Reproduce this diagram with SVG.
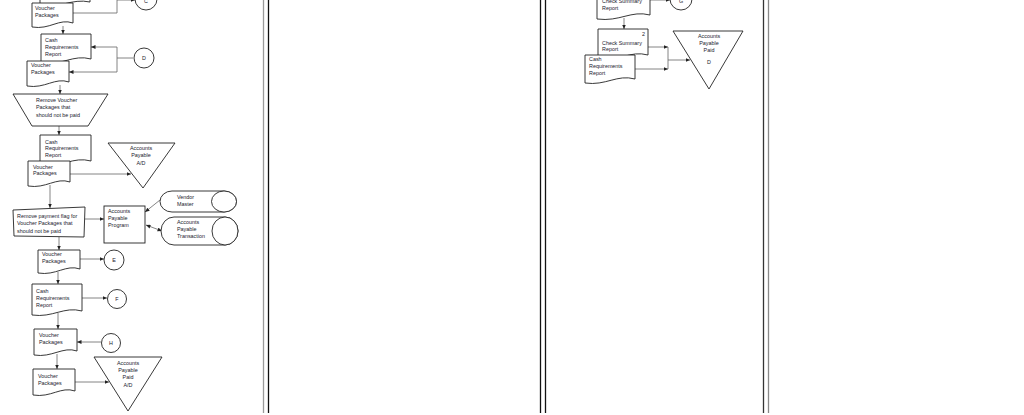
<svg xmlns="http://www.w3.org/2000/svg" width="1024" height="415" viewBox="0 0 1024 415">
<style>
.s{fill:#fff;stroke:#222;stroke-width:0.9}
.c{fill:none;stroke:#666;stroke-width:0.8}
.t{font-family:"Liberation Sans",Arial,sans-serif;font-size:5.4px;fill:#1a1a2e}
.m{text-anchor:middle}
</style>
<defs>
<marker id="a" markerUnits="userSpaceOnUse" markerWidth="5" markerHeight="5" refX="4.5" refY="2" orient="auto"><path d="M0,0 L4.5,2 L0,4 z" fill="#222"/></marker>
<marker id="b" markerUnits="userSpaceOnUse" markerWidth="5" markerHeight="5" refX="0" refY="2" orient="auto"><path d="M4.5,0 L0,2 L4.5,4 z" fill="#222"/></marker>
</defs>
<rect width="1024" height="415" fill="#fff"/>
<g id="borders">
<line x1="263.5" y1="0" x2="263.5" y2="413" stroke="#9a9a9a" stroke-width="1.3"/>
<line x1="268.5" y1="0" x2="268.5" y2="413" stroke="#111" stroke-width="1.3"/>
<line x1="540.5" y1="0" x2="540.5" y2="413" stroke="#111" stroke-width="1.3"/>
<line x1="545.5" y1="0" x2="545.5" y2="413" stroke="#111" stroke-width="1.3"/>
<line x1="763.5" y1="0" x2="763.5" y2="413" stroke="#333" stroke-width="1.3"/>
<line x1="768.5" y1="0" x2="768.5" y2="413" stroke="#888" stroke-width="1.3"/>
</g>
<g id="connectors">
<path class="c" d="M73,13 H117 V0 H135" marker-end="url(#a)"/>
<path class="c" d="M63,26 V34" marker-end="url(#a)"/>
<path class="c" d="M133,58 H117"/>
<path class="c" d="M117,47 V72"/>
<path class="c" d="M117,47 H91" marker-end="url(#a)"/>
<path class="c" d="M117,72 H69" marker-end="url(#a)"/>
<path class="c" d="M60,85 V94" marker-end="url(#a)"/>
<path class="c" d="M59,126 V135" marker-end="url(#a)"/>
<path class="c" d="M70,174 H131" marker-end="url(#a)"/>
<path class="c" d="M50,185 V208" marker-end="url(#a)"/>
<path class="c" d="M85,219 H104" marker-end="url(#a)"/>
<path class="c" d="M160,200 L145,212" marker-end="url(#a)"/>
<path class="c" d="M146,225 L162,231" marker-start="url(#b)" marker-end="url(#a)"/>
<path class="c" d="M59,237 V250" marker-end="url(#a)"/>
<path class="c" d="M80,259 H104" marker-end="url(#a)"/>
<path class="c" d="M58,272 V284" marker-end="url(#a)"/>
<path class="c" d="M82,298 H107" marker-end="url(#a)"/>
<path class="c" d="M58,313 V329" marker-end="url(#a)"/>
<path class="c" d="M101,342 H77" marker-end="url(#a)"/>
<path class="c" d="M57,354 V369" marker-end="url(#a)"/>
<path class="c" d="M75,382 H109" marker-end="url(#a)"/>
<path class="c" d="M650,0 H670" marker-end="url(#a)"/>
<path class="c" d="M624,18 V29" marker-end="url(#a)"/>
<path class="c" d="M648,47 H668" marker-end="url(#a)"/>
<path class="c" d="M635,69 H668" marker-end="url(#a)"/>
<path class="c" d="M668,47 V69"/>
<path class="c" d="M668,60 H690" marker-end="url(#a)"/>
</g>
<g id="doc-top-back"><path class="s" d="M40,-30 H90 V2 C72,-2 58,9 40,6 Z"/></g>
<g id="c-circle"><circle class="s" cx="146" cy="-1" r="11"/><text class="t m" x="146" y="3" fill="#b36b00">C</text></g>
<g id="voucher1"><path class="s" d="M32,3 H73 V23 C59,18 50,30 32,27 Z"/><text class="t" x="35" y="10">Voucher</text><text class="t" x="35" y="17">Packages</text></g>
<g id="cashreq1"><path class="s" d="M41,34 H91 V59 C73,54 62,66 41,63 Z"/><text class="t" x="45" y="42">Cash</text><text class="t" x="45" y="49">Requirements</text><text class="t" x="45" y="56">Report</text></g>
<g id="voucher2"><path class="s" d="M27,61 H69 V82 C55,77 45,89 27,86 Z"/><text class="t" x="31" y="67">Voucher</text><text class="t" x="31" y="74">Packages</text></g>
<g id="d-circle"><circle class="s" cx="144" cy="58" r="10"/><text class="t m" x="144" y="60">D</text></g>
<g id="remove-voucher"><path class="s" d="M13,94 H108 L88,126 H32 Z"/><text class="t" x="36" y="102">Remove Voucher</text><text class="t" x="36" y="109">Packages that</text><text class="t" x="36" y="117">should not be paid</text></g>
<g id="cashreq2"><path class="s" d="M40,135 H91 V161 C73,156 62,168 40,165 Z"/><text class="t" x="45" y="144">Cash</text><text class="t" x="45" y="150">Requirements</text><text class="t" x="45" y="157">Report</text></g>
<g id="voucher3"><path class="s" d="M28,161 H70 V182 C56,177 46,189 28,186 Z"/><text class="t" x="33" y="169">Voucher</text><text class="t" x="33" y="175">Packages</text></g>
<g id="ap-ad"><path class="s" d="M108,143 H175 L143,188 Z"/><text class="t m" x="141" y="150">Accounts</text><text class="t m" x="141" y="157">Payable</text><text class="t m" x="141" y="165">A/D</text></g>
<g id="remove-flag"><path class="s" d="M13,210 L85,207 L84,237 L14,236 Z"/><text class="t" x="17" y="218">Remove payment flag for</text><text class="t" x="17" y="225">Voucher Packages that</text><text class="t" x="17" y="233">should not be paid</text></g>
<g id="ap-program"><rect class="s" x="104" y="206" width="41" height="37"/><text class="t" x="108" y="213">Accounts</text><text class="t" x="108" y="220">Payable</text><text class="t" x="108" y="227">Program</text></g>
<g id="vendor-master"><path class="s" d="M172,191 H224 A12.5,10.5 0 0 1 224,212 H172 A12,10.5 0 0 1 172,191 Z"/><ellipse class="s" cx="224" cy="201.5" rx="12.5" ry="10.5"/><text class="t" x="177" y="199">Vendor</text><text class="t" x="177" y="206">Master</text></g>
<g id="ap-transaction"><path class="s" d="M174,217 H225 A13,14 0 0 1 225,245 H174 A13,14 0 0 1 174,217 Z"/><ellipse class="s" cx="225" cy="231" rx="13" ry="14"/><text class="t" x="177" y="224">Accounts</text><text class="t" x="177" y="231">Payable</text><text class="t" x="177" y="238">Transaction</text></g>
<g id="voucher4"><path class="s" d="M38,250 H80 V269 C66,264 56,276 38,273 Z"/><text class="t" x="42" y="256">Voucher</text><text class="t" x="42" y="263">Packages</text></g>
<g id="e-circle"><circle class="s" cx="114" cy="260" r="10"/><text class="t m" x="114" y="262">E</text></g>
<g id="cashreq3"><path class="s" d="M32,284 H82 V311 C64,306 53,318 32,315 Z"/><text class="t" x="36" y="293">Cash</text><text class="t" x="36" y="300">Requirements</text><text class="t" x="36" y="307">Report</text></g>
<g id="f-circle"><circle class="s" cx="117" cy="299" r="9.5"/><text class="t m" x="117" y="301">F</text></g>
<g id="voucher5"><path class="s" d="M34,329 H77 V351 C63,346 52,358 34,355 Z"/><text class="t" x="39" y="337">Voucher</text><text class="t" x="39" y="344">Packages</text></g>
<g id="h-circle"><circle class="s" cx="111" cy="343" r="9.5"/><text class="t m" x="111" y="345">H</text></g>
<g id="voucher6"><path class="s" d="M33,369 H75 V391 C61,386 51,398 33,395 Z"/><text class="t" x="38" y="378">Voucher</text><text class="t" x="38" y="385">Packages</text></g>
<g id="ap-paid-ad"><path class="s" d="M94,357 H162 L128,411 Z"/><text class="t m" x="128" y="365">Accounts</text><text class="t m" x="128" y="372">Payable</text><text class="t m" x="128" y="379">Paid</text><text class="t m" x="128" y="387">A/D</text></g>
<g id="check-summary-top"><path class="s" d="M597,-20 H650 V15 C631,10 620,22 597,19 Z"/><text class="t" x="602" y="3">Check Summary</text><text class="t" x="602" y="9.5">Report</text></g>
<g id="g-circle"><circle class="s" cx="681" cy="-1" r="11"/><text class="t m" x="681" y="3" fill="#b36b00">G</text></g>
<g id="check-summary"><path class="s" d="M598,29 H648 V55 C630,50 619,62 598,59 Z"/><text class="t" x="642" y="36">2</text><text class="t" x="602" y="45">Check Summary</text><text class="t" x="602" y="51">Report</text></g>
<g id="cashreq-right"><path class="s" d="M585,55 H635 V79 C617,74 606,86 585,83 Z"/><text class="t" x="589" y="61">Cash</text><text class="t" x="589" y="68">Requirements</text><text class="t" x="589" y="75">Report</text></g>
<g id="ap-paid-d"><path class="s" d="M673,31 H743 L709,89 Z"/><text class="t m" x="709" y="38">Accounts</text><text class="t m" x="709" y="45">Payable</text><text class="t m" x="709" y="52">Paid</text><text class="t m" x="709" y="64">D</text></g>
</svg>
